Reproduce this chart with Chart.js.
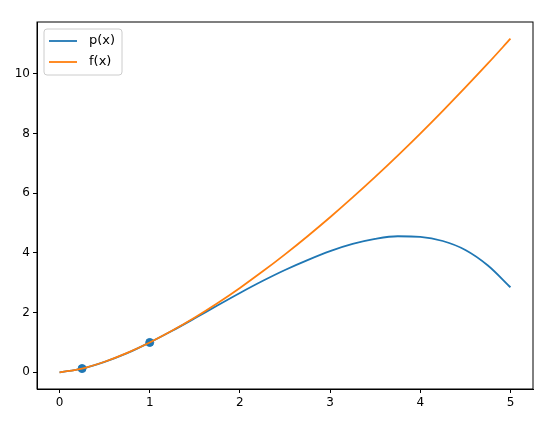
<!DOCTYPE html>
<html>
<head>
<meta charset="utf-8">
<script src="https://cdn.jsdelivr.net/npm/chart.js@4"></script>
<style>body{margin:0;background:#fff}</style>
</head>
<body>
<canvas id="c" width="545" height="421"></canvas>
<script>
const xs = [0, 0.25, 0.5, 0.75, 1, 1.25, 1.5, 1.75, 2, 2.25, 2.5, 2.75, 3, 3.25, 3.5, 3.75, 4, 4.25, 4.5, 4.75, 5];
const pVals = [0, 0.125, 0.35, 0.64, 1, 1.39, 1.81, 2.24, 2.66, 3.06, 3.43, 3.76, 4.06, 4.30, 4.47, 4.56, 4.54, 4.40, 4.10, 3.58, 2.85];
const fVals = [0, 0.125, 0.354, 0.650, 1, 1.398, 1.837, 2.315, 2.828, 3.375, 3.953, 4.561, 5.196, 5.860, 6.548, 7.262, 8, 8.762, 9.546, 10.35, 11.18];
const nodeX = [0.25, 1];
const nodeY = [0.125, 1];
const xTicks = [0, 1, 2, 3, 4, 5];
const yTicks = [0, 2, 4, 6, 8, 10];
const labels = ['p(x)', 'f(x)'];
const blue = '#1f77b4', orange = '#ff7f0e';

const frame = {
    id: 'frame',
    afterDraw(chart) {
        const {ctx, chartArea: a} = chart;
        ctx.save();
        ctx.strokeStyle = '#000';
        ctx.lineWidth = 1;
        ctx.strokeRect(a.left, a.top, a.right - a.left, a.bottom - a.top);
        // legend box
        const bx = a.left + 7, by = a.top + 7;
        ctx.fillStyle = 'rgba(255,255,255,0.8)';
        ctx.strokeStyle = '#ccc';
        ctx.beginPath();
        ctx.roundRect(bx, by, 78, 46, 3);
        ctx.fill();
        ctx.stroke();
        ctx.font = '13px "DejaVu Sans"';
        ctx.textBaseline = 'middle';
        [blue, orange].forEach((col, i) => {
            const y = by + 12 + i * 21;
            ctx.strokeStyle = col;
            ctx.lineWidth = 1.8;
            ctx.beginPath();
            ctx.moveTo(bx + 5, y);
            ctx.lineTo(bx + 33, y);
            ctx.stroke();
            ctx.fillStyle = '#000';
            ctx.fillText(labels[i], bx + 45, y);
        });
        ctx.restore();
    }
};

const tickFont = {family: 'DejaVu Sans', size: 12};
new Chart(document.getElementById('c'), {
    type: 'line',
    data: {
        datasets: [{
            label: labels[0],
            data: xs.map((x, i) => ({x, y: pVals[i]})),
            borderColor: blue, borderWidth: 1.8, pointRadius: 0,
            cubicInterpolationMode: 'monotone', order: 2
        }, {
            label: labels[1],
            data: xs.map((x, i) => ({x, y: fVals[i]})),
            borderColor: orange, borderWidth: 1.8, pointRadius: 0,
            cubicInterpolationMode: 'monotone', order: 1
        }, {
            type: 'scatter',
            label: 'nodes',
            data: nodeX.map((x, i) => ({x, y: nodeY[i]})),
            backgroundColor: blue, borderColor: blue, pointRadius: 4, order: 3
        }]
    },
    options: {
        responsive: false,
        animation: false,
        layout: {padding: {top: 22, right: 12, left: 0, bottom: 0}},
        plugins: {legend: {display: false}, tooltip: {enabled: false}},
        scales: {
            x: {
                type: 'linear', min: -0.25, max: 5.25,
                afterBuildTicks: s => { s.ticks = xTicks.map(v => ({value: v})); },
                grid: {drawOnChartArea: false, tickLength: 4, color: '#000'},
                border: {color: '#000'},
                ticks: {color: '#000', font: tickFont, maxRotation: 0},
                afterFit: s => { s.height = 32; }
            },
            y: {
                min: -0.56, max: 11.74,
                afterBuildTicks: s => { s.ticks = yTicks.map(v => ({value: v})); },
                grid: {drawOnChartArea: false, tickLength: 4, color: '#000'},
                border: {color: '#000'},
                ticks: {color: '#000', font: tickFont},
                afterFit: s => { s.width = 37; }
            }
        }
    },
    plugins: [frame]
});
</script>
</body>
</html>
